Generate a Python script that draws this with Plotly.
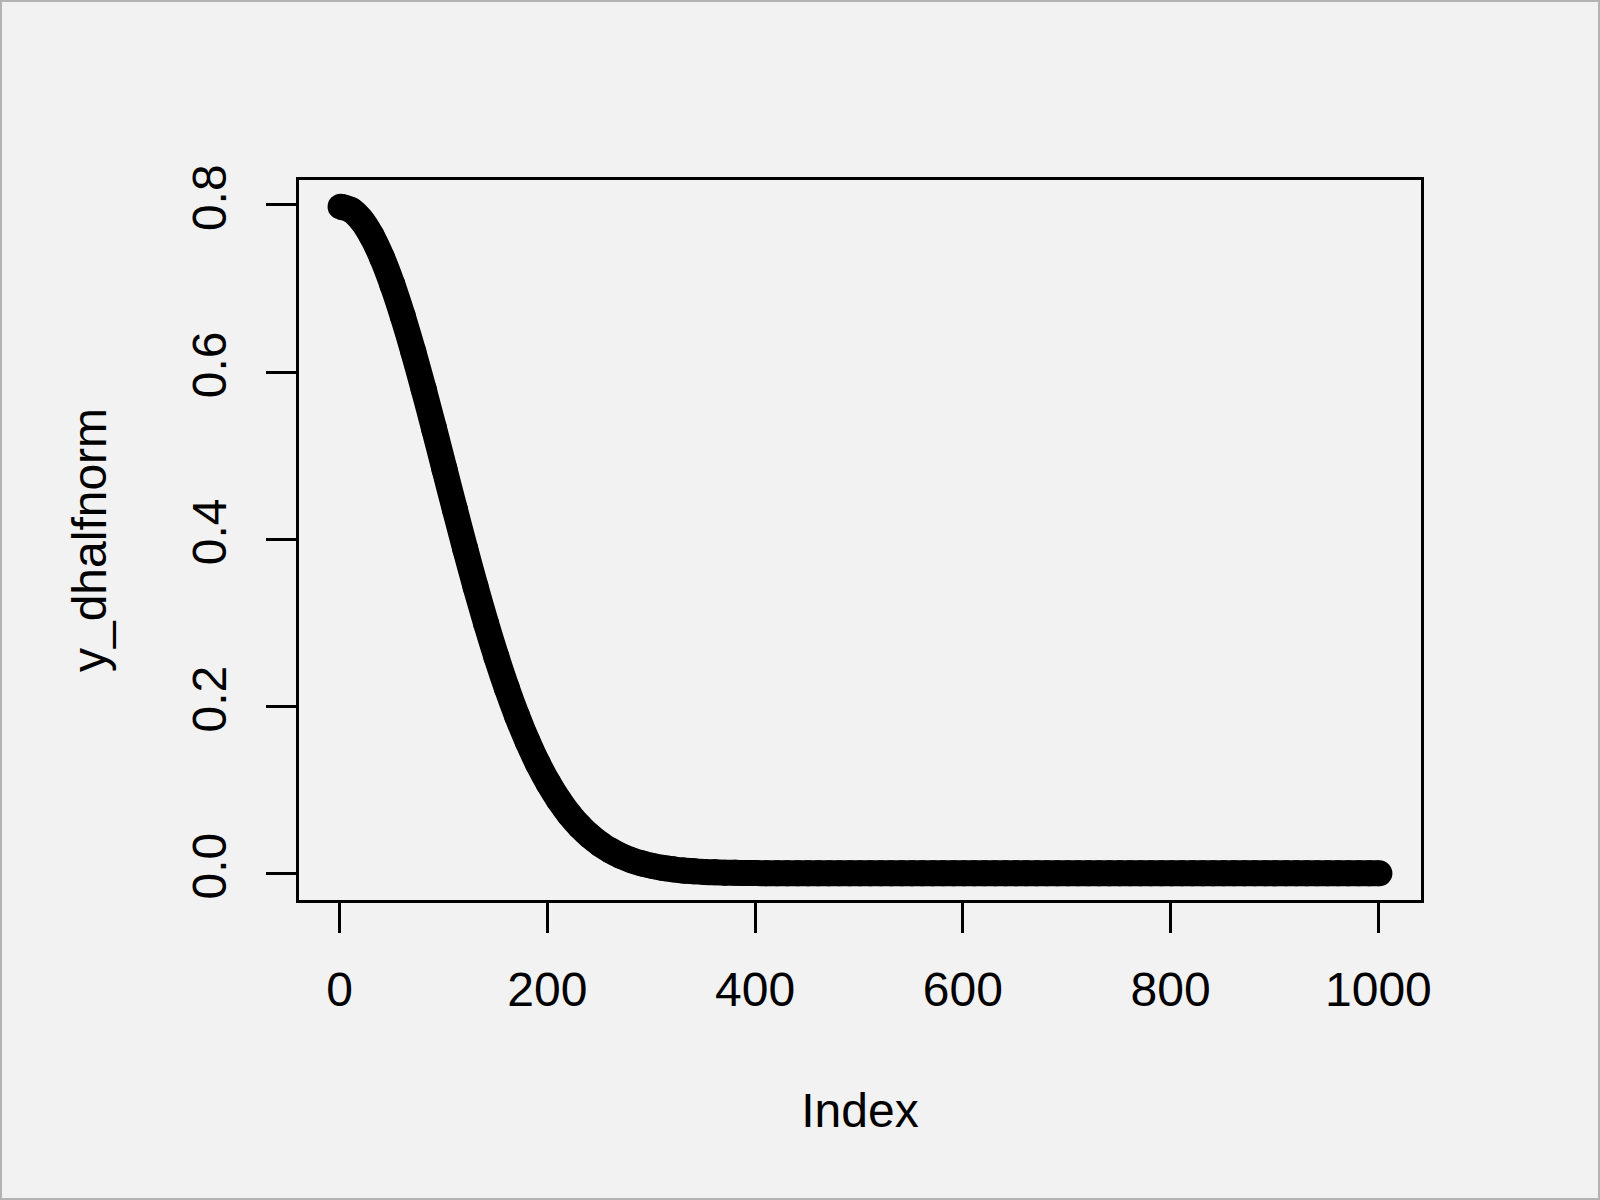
import plotly.graph_objects as go

index_vals = list(range(1, 1002, 10))
y_dhalfnorm = [
    0.7979, 0.7939, 0.7821, 0.7628, 0.7366, 0.7041, 0.6664, 0.6245, 0.5794, 0.5322,
    0.4839, 0.4357, 0.3884, 0.3427, 0.2995, 0.2590, 0.2218, 0.1881, 0.1579, 0.1312,
    0.1080, 0.0880, 0.0709, 0.0567, 0.0448, 0.0351, 0.0272, 0.0208, 0.0158, 0.0119,
    0.0089, 0.0065, 0.0048, 0.0034, 0.0025, 0.0017, 0.0012, 0.0008, 0.0006, 0.0004,
    0.0003, 0.0002, 0.0001, 0.0001, 0.0000, 0.0000, 0.0000, 0.0000, 0.0000, 0.0000,
    0.0000, 0.0000, 0.0000, 0.0000, 0.0000, 0.0000, 0.0000, 0.0000, 0.0000, 0.0000,
    0.0000, 0.0000, 0.0000, 0.0000, 0.0000, 0.0000, 0.0000, 0.0000, 0.0000, 0.0000,
    0.0000, 0.0000, 0.0000, 0.0000, 0.0000, 0.0000, 0.0000, 0.0000, 0.0000, 0.0000,
    0.0000, 0.0000, 0.0000, 0.0000, 0.0000, 0.0000, 0.0000, 0.0000, 0.0000, 0.0000,
    0.0000, 0.0000, 0.0000, 0.0000, 0.0000, 0.0000, 0.0000, 0.0000, 0.0000, 0.0000,
    0.0000,
]
x_ticks = [0, 200, 400, 600, 800, 1000]
y_ticks = [0.0, 0.2, 0.4, 0.6, 0.8]
y_tick_text = ["0.0", "0.2", "0.4", "0.6", "0.8"]

FONT = "Liberation Sans, Arial, sans-serif"
BG = "#f2f2f2"

fig = go.Figure()
fig.add_trace(go.Scatter(
    x=index_vals, y=y_dhalfnorm, mode="lines+markers",
    line=dict(color="black", width=26, shape="spline", smoothing=0.6),
    marker=dict(color="black", size=26),
    showlegend=False, hoverinfo="skip",
))

W, H = 1600, 1200
L, R, T, B = 299, 179, 180, 300
pw, ph = W - L - R, H - T - B

fig.update_layout(
    width=W, height=H,
    margin=dict(l=L, r=R, t=T, b=B, pad=0),
    paper_bgcolor=BG, plot_bgcolor=BG,
    font=dict(family=FONT, size=48, color="black"),
    xaxis=dict(
        range=[-39, 1041], tickvals=x_ticks, ticktext=[str(v) for v in x_ticks],
        showgrid=False, zeroline=False,
        showline=True, mirror=True, linecolor="black", linewidth=2.5,
        ticks="outside", ticklen=30, tickwidth=2.5, tickcolor="black",
        ticklabelstandoff=16,
        tickfont=dict(family=FONT, size=48, color="black"),
        title=dict(text="Index", font=dict(family=FONT, size=48, color="black"), standoff=79),
    ),
    yaxis=dict(
        range=[-0.0319, 0.8298], tickvals=y_ticks, ticktext=y_tick_text,
        tickangle=-90,
        showgrid=False, zeroline=False,
        showline=True, mirror=True, linecolor="black", linewidth=2.5,
        ticks="outside", ticklen=30, tickwidth=2.5, tickcolor="black",
        ticklabelstandoff=21,
        tickfont=dict(family=FONT, size=48, color="black"),
        title=dict(text="y_dhalfnorm", font=dict(family=FONT, size=48, color="black"), standoff=62),
    ),
)

# thin gray border around the whole image
fig.add_shape(
    type="rect", xref="paper", yref="paper",
    x0=(1 - L) / pw, x1=(W - 1 - L) / pw,
    y0=-(B - 1) / ph, y1=1 + (T - 1) / ph,
    line=dict(color="#b3b3b3", width=2), fillcolor="rgba(0,0,0,0)", layer="below",
)

fig.write_html("out.html")
